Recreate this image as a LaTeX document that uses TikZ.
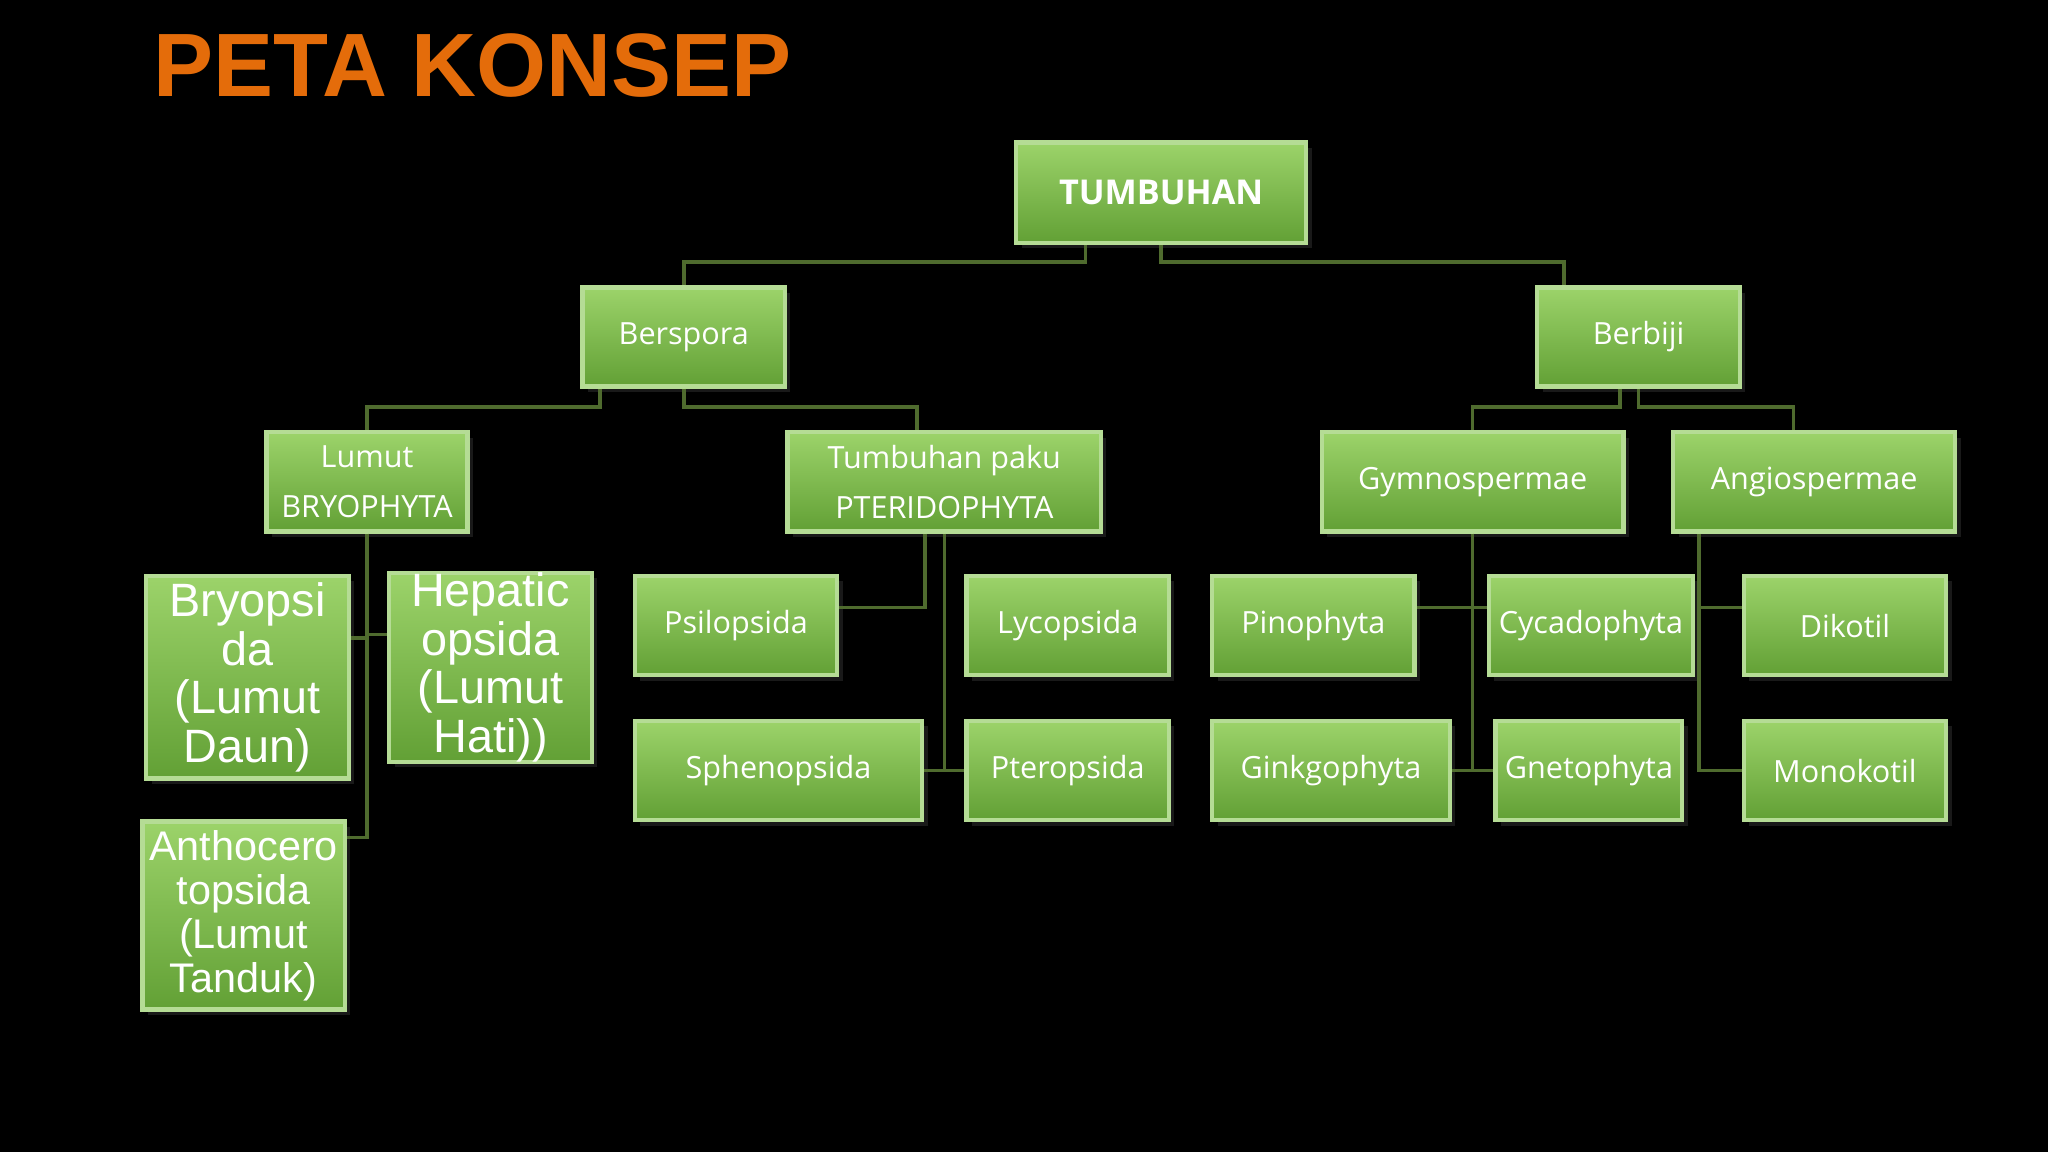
\documentclass[tikz,border=0pt]{standalone}
\usepackage{fontspec}
\setmainfont{Open Sans}
\newfontfamily\titlefont{Liberation Sans}
\usetikzlibrary{calc,shadows}
\definecolor{boxtop}{HTML}{9CD36A}
\definecolor{boxbot}{HTML}{62A035}
\definecolor{boxedge}{HTML}{B5DC95}
\definecolor{linkgreen}{HTML}{4F6B2E}
\definecolor{titleorange}{HTML}{E46C0A}

\tikzset{
  concept/.style={draw=boxedge,line width=1.2pt,top color=boxtop,bottom color=boxbot,
    text=white,font=\fontsize{8.5}{14}\selectfont,align=center,inner sep=0pt,
    drop shadow={shadow xshift=1.5pt,shadow yshift=-1.5pt,fill=black!60!gray}},
  bigtext/.style={font=\titlefont\fontsize{13}{13.5}\selectfont},
  link/.style={draw=linkgreen,line width=1pt}
}

\begin{document}
\begin{tikzpicture}[x=0.01275cm,y=-0.01275cm]
  \fill[black] (0,0) rectangle (1568,882);
  \node[anchor=base west,text=titleorange,font=\titlefont\bfseries\fontsize{25}{25}\selectfont] (title) at (108,74) {PETA KONSEP};

  % level 0 and 1
  \node[concept,minimum width=222*0.01275cm,minimum height=77*0.01275cm,font=\bfseries\fontsize{9.5}{12}\selectfont] (top) at (889,147.5) {TUMBUHAN};
  \node[concept,minimum width=155*0.01275cm,minimum height=76*0.01275cm] (bsp) at (523.5,258) {Berspora};
  \node[concept,minimum width=155*0.01275cm,minimum height=76*0.01275cm] (bbj) at (1254.5,258) {Berbiji};

  % level 2
  \node[concept,minimum width=154*0.01275cm,minimum height=76*0.01275cm] (lum) at (281,369) {Lumut\\BRYOPHYTA};
  \node[concept,minimum width=240*0.01275cm,minimum height=76*0.01275cm] (paku) at (723,369) {Tumbuhan paku\\PTERIDOPHYTA};
  \node[concept,minimum width=231*0.01275cm,minimum height=76*0.01275cm] (gym) at (1127.5,369) {Gymnospermae};
  \node[concept,minimum width=216*0.01275cm,minimum height=76*0.01275cm] (ang) at (1389,369) {Angiospermae};

  % mosses
  \node[concept,bigtext,minimum width=155*0.01275cm,minimum height=155*0.01275cm] (bry) at (189.5,518.5) {Bryopsi\\da\\(Lumut\\Daun)};
  \node[concept,bigtext,minimum width=155*0.01275cm,minimum height=140*0.01275cm] (hep) at (375.5,511) {Hepatic\\opsida\\(Lumut\\Hati))};
  \node[concept,bigtext,font=\titlefont\fontsize{11.5}{12.2}\selectfont,minimum width=155*0.01275cm,minimum height=144*0.01275cm] (ant) at (186.5,701) {Anthocero\\topsida\\(Lumut\\Tanduk)};

  % ferns
  \node[concept,minimum width=155*0.01275cm,minimum height=76*0.01275cm] (psi) at (563.5,479) {Psilopsida};
  \node[concept,minimum width=155*0.01275cm,minimum height=76*0.01275cm] (lyc) at (817.5,479) {Lycopsida};
  \node[concept,minimum width=220*0.01275cm,minimum height=76*0.01275cm] (sph) at (596,590) {Sphenopsida};
  \node[concept,minimum width=155*0.01275cm,minimum height=76*0.01275cm] (pte) at (817.5,590) {Pteropsida};

  % seed plants
  \node[concept,minimum width=155*0.01275cm,minimum height=76*0.01275cm] (pin) at (1005.5,479) {Pinophyta};
  \node[concept,minimum width=156*0.01275cm,minimum height=76*0.01275cm] (cyc) at (1218,479) {Cycadophyta};
  \node[concept,minimum width=182*0.01275cm,minimum height=76*0.01275cm] (gin) at (1019,590) {Ginkgophyta};
  \node[concept,minimum width=143*0.01275cm,minimum height=76*0.01275cm] (gne) at (1216.5,590) {Gnetophyta};
  \node[concept,minimum width=155*0.01275cm,minimum height=76*0.01275cm] (dik) at (1412.5,479) {Dikotil};
  \node[concept,minimum width=155*0.01275cm,minimum height=76*0.01275cm] (mon) at (1412.5,590) {Monokotil};

  % links
  \draw[link] ($(top.south)+(-58,0)$) -- ++(0,13) -| (bsp.north);
  \draw[link] (top.south) -- ++(0,13) -| ($(bbj.north)+(-57,0)$);
  \draw[link] ($(bsp.south)+(-64,0)$) -- ++(0,14) -| (lum.north);
  \draw[link] (bsp.south) -- ++(0,14) -| ($(paku.north)+(-21,0)$);
  \draw[link] ($(bbj.south)+(-14,0)$) -- ++(0,14) -| (gym.north);
  \draw[link] (bbj.south) -- ++(0,14) -| ($(ang.north)+(-16,0)$);

  \draw[link] (lum.south) |- ($(bry.north east)+(0,49)$);
  \draw[link] (lum.south) |- ($(hep.north west)+(0,49)$);
  \draw[link] (lum.south) |- ($(ant.north east)+(0,14)$);

  \draw[link] ($(paku.south)+(-15,0)$) |- ($(psi.east)+(0,-14)$);
  \draw[link] (paku.south) |- (sph.east);
  \draw[link] (paku.south) |- (pte.west);

  \draw[link] (gym.south) |- ($(pin.east)+(0,-14)$);
  \draw[link] (gym.south) |- ($(cyc.west)+(0,-14)$);
  \draw[link] (gym.south) |- (gin.east);
  \draw[link] (gym.south) |- (gne.west);

  \draw[link] ($(ang.south)+(-88,0)$) |- ($(dik.west)+(0,-14)$);
  \draw[link] ($(ang.south)+(-88,0)$) |- (mon.west);
\end{tikzpicture}
\end{document}
